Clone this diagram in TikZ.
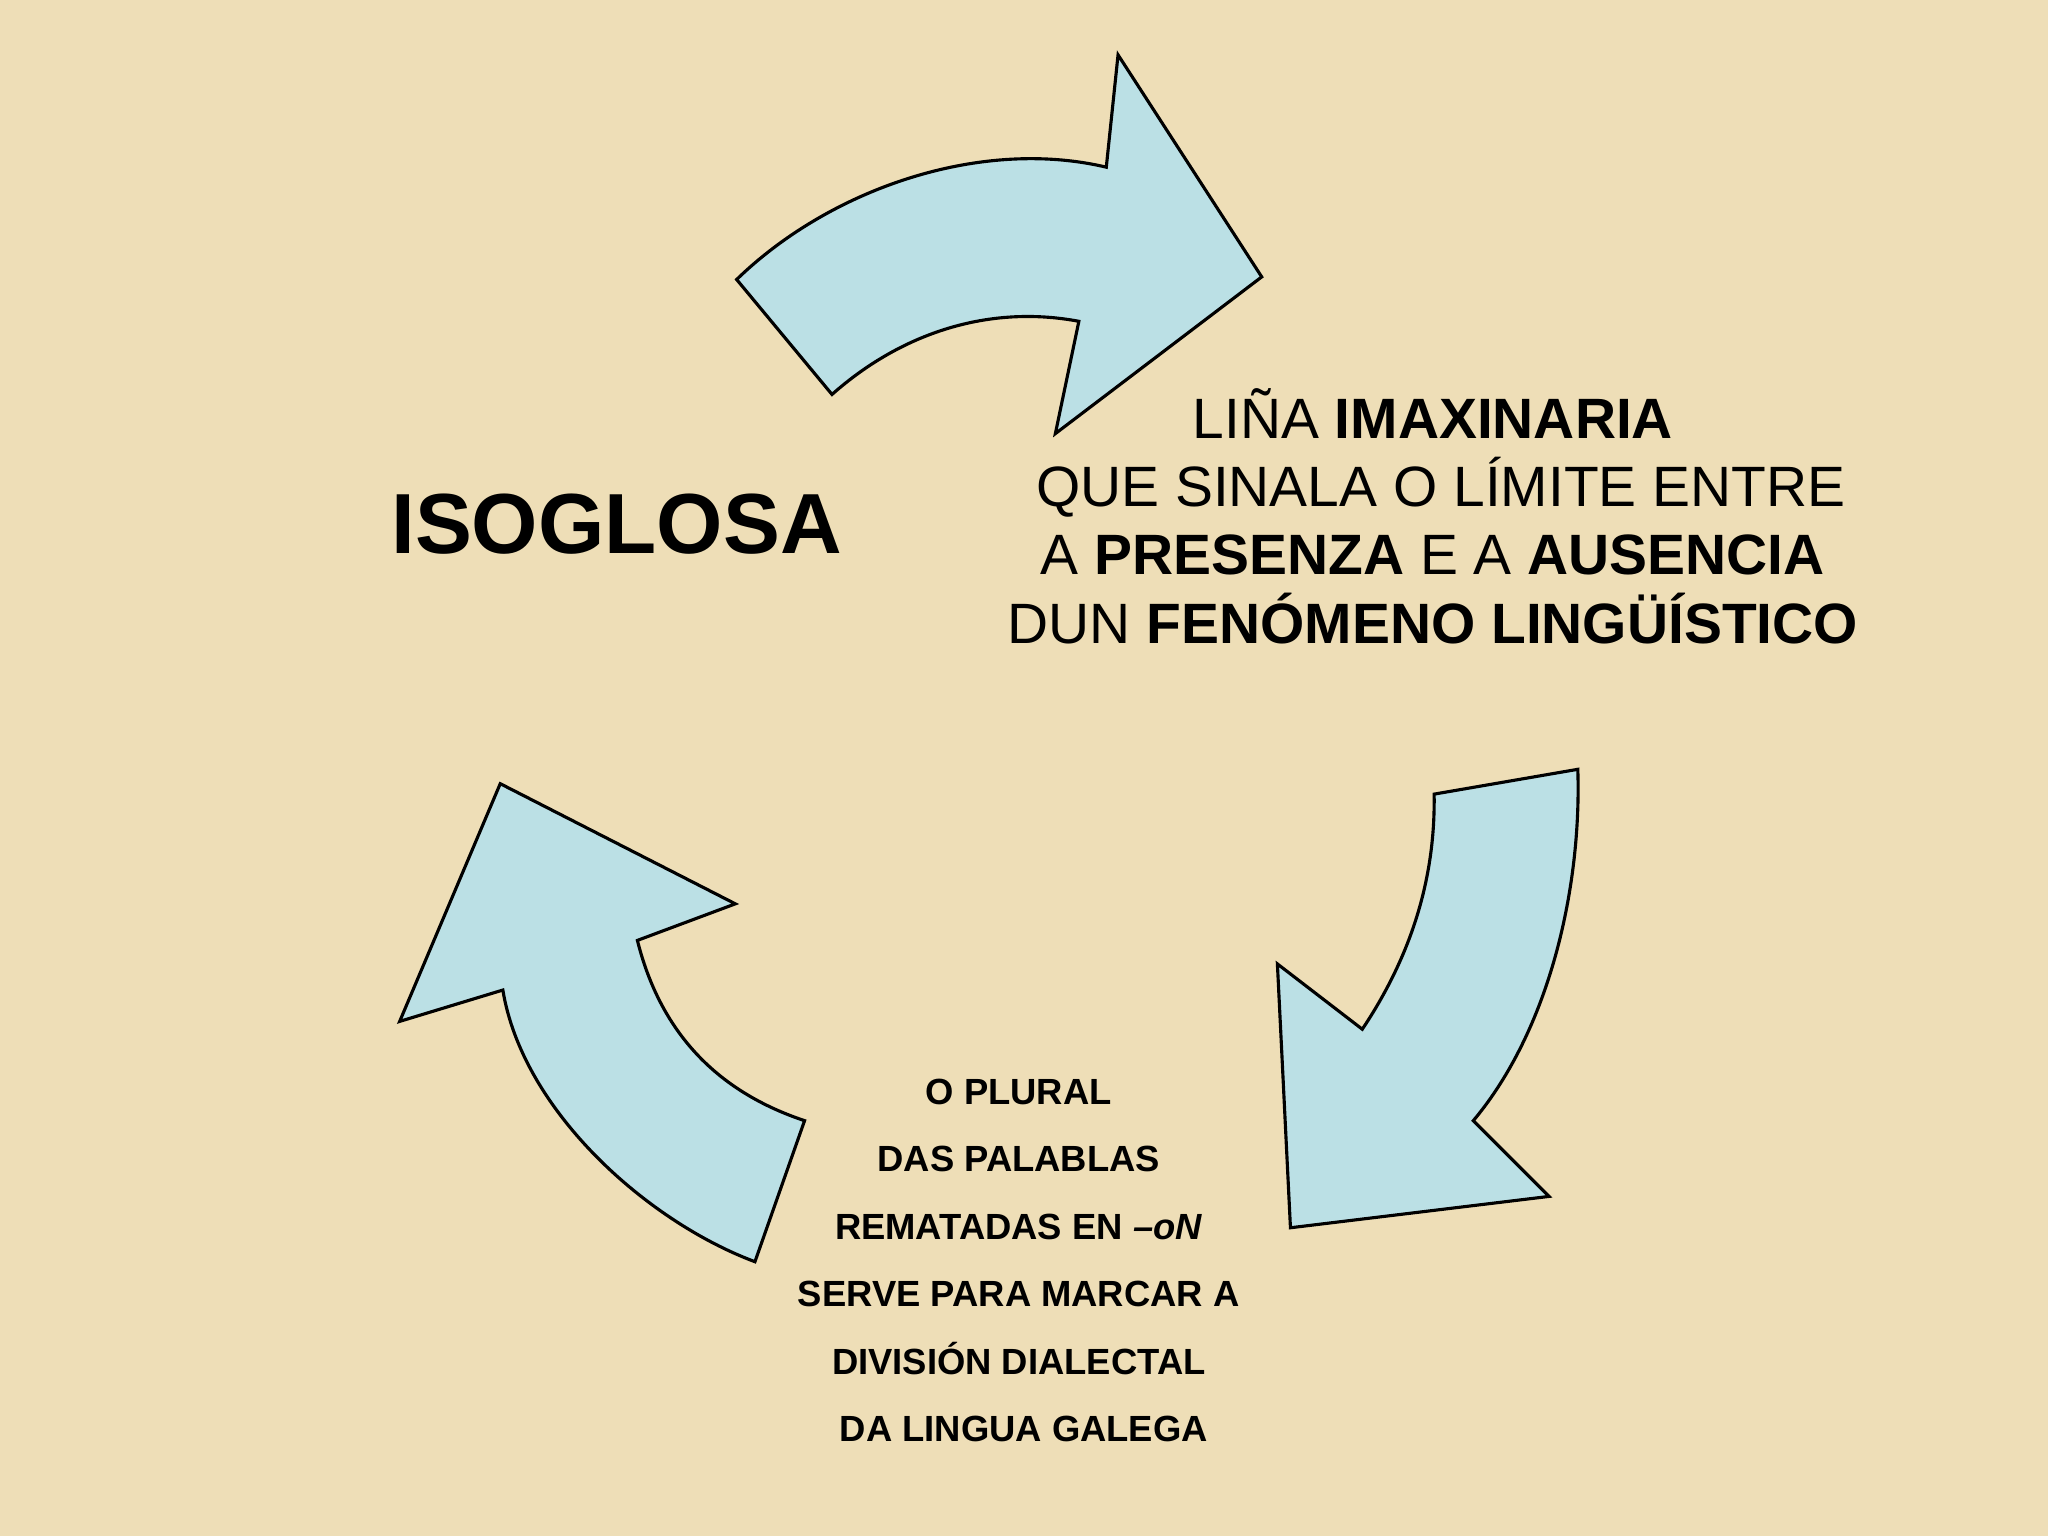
\documentclass[tikz,border=0pt]{standalone}
\usepackage{fontspec}
\setmainfont{Liberation Sans}
\definecolor{pergamino}{RGB}{238,222,183}
\definecolor{azulclaro}{RGB}{187,224,229}

\begin{document}
\begin{tikzpicture}[x=0.45918pt,y=-0.45918pt]
        \tikzstyle{every node}=[inner sep=0pt, align=center]
        \tikzstyle{frecha}=[fill=azulclaro, draw=black, line width=1.1pt, line join=miter]
        \fill[pergamino] (0,0) rectangle (1568,1176);
        \useasboundingbox (0,0) rectangle (1568,1176);
        % frecha de arriba
        \filldraw[frecha] (564,214) .. controls (635,145) and (750,105) .. (847,128)
            -- (856,42) -- (966,212) -- (808,332) -- (826,246)
            .. controls (757,233) and (690,255) .. (637,302) -- cycle;
        % frecha da dereita
        \filldraw[frecha] (1098,608) -- (1208,589)
            .. controls (1211,680) and (1186,789) .. (1128,858)
            -- (1186,916) -- (988,940) -- (978,738) -- (1043,788)
            .. controls (1083,728) and (1099,668) .. (1098,608) -- cycle;
        % frecha da esquerda
        \filldraw[frecha] (383,600) -- (563,692) -- (488,720)
            .. controls (508,800) and (559,839) .. (616,858) -- (578,966)
            .. controls (495,935) and (400,850) .. (385,758) -- (306,782) -- cycle;
        \node[font=\bfseries\fontsize{30}{36}\selectfont, anchor=base] (isoglosa) at (472,424) {ISOGLOSA};
        \node[font=\fontsize{20}{24}\selectfont] (definicion) at (1097,395)
            {LIÑA \textbf{IMAXINARIA}\\
             \hspace*{.278em}QUE SINALA O LÍMITE ENTRE\\
             A \textbf{PRESENZA} E A \textbf{AUSENCIA}\hspace*{.278em}\\
             DUN \textbf{FENÓMENO LINGÜÍSTICO}};
        \node[font=\bfseries\fontsize{12.8}{23.7}\selectfont] (exemplo) at (780,965)
            {O PLURAL\\
             DAS PALABLAS\\
             REMATADAS EN \textit{–oN}\\
             SERVE PARA MARCAR A\\
             DIVISIÓN DIALECTAL\\
             \hspace*{.278em}DA LINGUA GALEGA};
\end{tikzpicture}
\end{document}
